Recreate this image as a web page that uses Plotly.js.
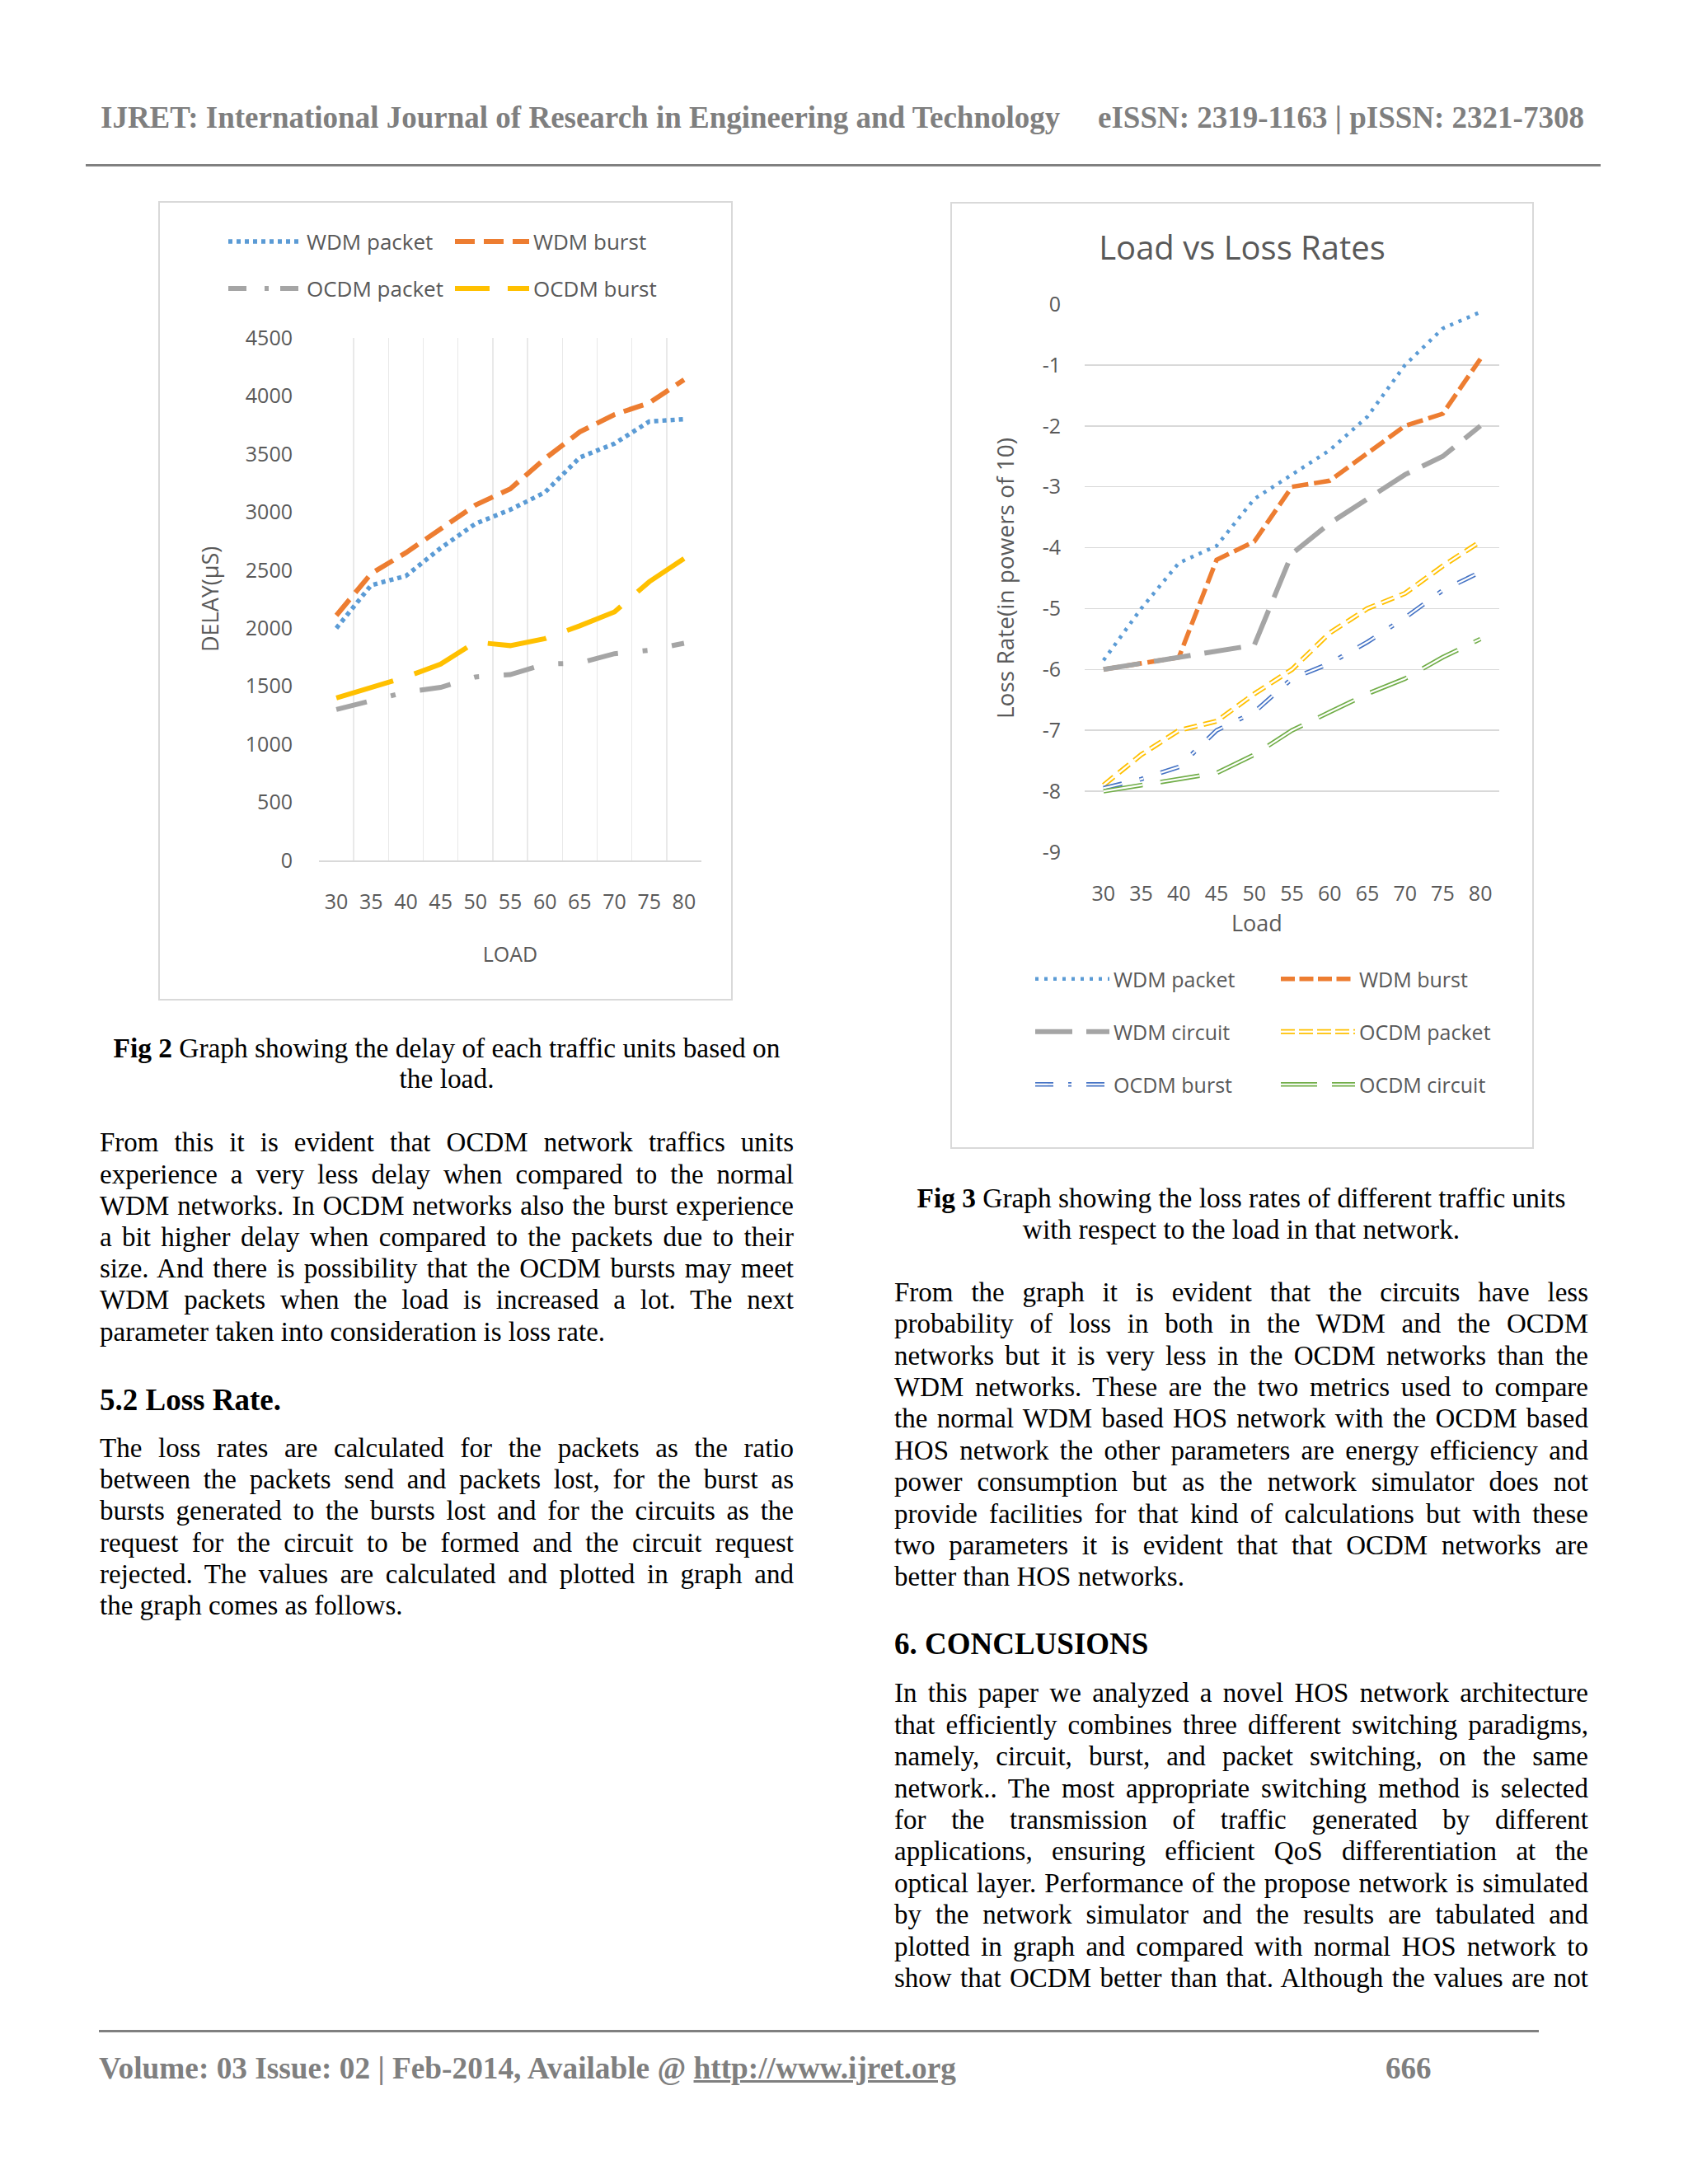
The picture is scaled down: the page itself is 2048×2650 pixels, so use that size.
<!DOCTYPE html>
<html><head><meta charset="utf-8">
<script src="https://cdn.plot.ly/plotly-3.0.1.min.js"></script>
<style>
html,body{margin:0;padding:0;background:#fff;}
#page{position:relative;width:2048px;height:2650px;overflow:hidden;background:#fff;font-family:"Liberation Serif","Times New Roman",serif;color:#000;}
.ln{position:absolute;white-space:nowrap;line-height:1;}
.rule{position:absolute;height:3px;background:#808080;}
.frame{position:absolute;border:2px solid #d9d9d9;background:#fff;}
.frame > div{width:100%;height:100%;}
</style></head>
<body>
<div id="page">
  <div class="rule" style="left:104px;top:199px;width:1838px;"></div>
  <div class="rule" style="left:120px;top:2463px;width:1747px;"></div>
  <div class="frame" style="left:192px;top:244px;width:693px;height:966px;"><div id="chart1"></div></div>
  <div class="frame" style="left:1153px;top:245px;width:704px;height:1145px;"><div id="chart2"></div></div>
</div>
<script>
// ---------------- data ----------------
const loads = ['30','35','40','45','50','55','60','65','70','75','80'];

// Fig 2: delay (µS)
const delayWdmPacket  = [2000,2370,2450,2690,2900,3020,3170,3470,3590,3780,3800];
const delayWdmBurst   = [2110,2470,2650,2860,3060,3200,3460,3690,3840,3940,4140];
const delayOcdmPacket = [1300,1380,1450,1490,1580,1600,1690,1700,1780,1810,1870];
const delayOcdmBurst  = [1400,1490,1580,1690,1880,1850,1910,2020,2140,2400,2600];
const delayTicks = [0,500,1000,1500,2000,2500,3000,3500,4000,4500];

// Fig 3: loss rate (powers of 10)
const lossWdmPacket   = [-5.85,-5.0,-4.25,-3.97,-3.2,-2.8,-2.4,-1.85,-1.0,-0.4,-0.13];
const lossWdmBurst    = [-6.0,-5.9,-5.8,-4.2,-3.9,-3.0,-2.9,-2.45,-2.0,-1.8,-0.9];
const lossWdmCircuit  = [-6.0,-5.9,-5.8,-5.7,-5.6,-4.1,-3.6,-3.2,-2.8,-2.5,-2.0];
const lossOcdmPacket  = [-7.9,-7.4,-7.0,-6.85,-6.4,-6.0,-5.4,-5.0,-4.75,-4.3,-3.9];
const lossOcdmBurst   = [-7.95,-7.8,-7.6,-7.0,-6.7,-6.15,-5.9,-5.55,-5.15,-4.7,-4.4];
const lossOcdmCircuit = [-8.0,-7.9,-7.8,-7.7,-7.4,-7.0,-6.7,-6.4,-6.15,-5.8,-5.5];
const lossTickVals = [0,-1,-2,-3,-4,-5,-6,-7,-8,-9];
const lossTickText = ['0','-1','-2','-3','-4','-5','-6','-7','-8','-9'];

// ---------------- page text ----------------
const page = document.getElementById('page');
function addLine(html, o){
  const d = document.createElement('div');
  d.className = 'ln';
  const size = o.size || 33;
  d.style.fontSize = size + 'px';
  d.style.top = (o.baseline - 0.837*size) + 'px';
  d.style.left = o.left + 'px';
  if (o.width) d.style.width = o.width + 'px';
  if (o.align === 'justify'){ d.style.textAlign='justify'; d.style.textAlignLast='justify'; }
  else if (o.align) d.style.textAlign = o.align;
  if (o.bold) d.style.fontWeight = 'bold';
  if (o.color) d.style.color = o.color;
  d.innerHTML = html;
  page.appendChild(d);
}
function addPara(lines, o){
  lines.forEach((t,i)=>{
    addLine(t, {left:o.left, width:o.width, size:o.size, baseline:o.baseline + i*o.step,
                align: (i===lines.length-1 && !o.justifyLast) ? 'left' : 'justify'});
  });
}
const gray = '#7f7f7f';
addLine('IJRET: International Journal of Research in Engineering and Technology', {left:122, baseline:154.5, size:37, bold:true, color:gray});
addLine('eISSN: 2319-1163 | pISSN: 2321-7308', {left:1332, baseline:154.5, size:37, bold:true, color:gray});
addLine('Volume: 03 Issue: 02 | Feb-2014, Available @ <u>http://www.ijret.org</u>', {left:120, baseline:2522, size:37.3, bold:true, color:gray});
addLine('666', {left:1681, baseline:2522, size:37, bold:true, color:gray});

const L = 121, W = 842, R = 1085;
addLine('<b>Fig 2</b> Graph showing the delay of each traffic units based on', {left:L, width:W, baseline:1283, size:33.4, align:'center'});
addLine('the load.', {left:L, width:W, baseline:1320, size:33.4, align:'center'});
addPara([
 'From this it is evident that OCDM network traffics units',
 'experience a very less delay when compared to the normal',
 'WDM networks. In OCDM networks also the burst experience',
 'a bit higher delay when compared to the packets due to their',
 'size. And there is possibility that the OCDM bursts may meet',
 'WDM packets when the load is increased a lot. The next',
 'parameter taken into consideration is loss rate.'
], {left:L, width:W, size:33, baseline:1398, step:38.2});
addLine('5.2 Loss Rate.', {left:L, baseline:1710.5, size:37, bold:true});
addPara([
 'The loss rates are calculated for the packets as the ratio',
 'between the packets send and packets lost, for the burst as',
 'bursts generated to the bursts lost and for the circuits as the',
 'request for the circuit to be formed and the circuit request',
 'rejected. The values are calculated and plotted in graph and',
 'the graph comes as follows.'
], {left:L, width:W, size:33, baseline:1768.5, step:38.3});

addLine('<b>Fig 3</b> Graph showing the loss rates of different traffic units', {left:R, width:W, baseline:1464.7, size:33.4, align:'center'});
addLine('with respect to the load in that network.', {left:R, width:W, baseline:1503.4, size:33.4, align:'center'});
addPara([
 'From the graph it is evident that the circuits have less',
 'probability of loss in both in the WDM and the OCDM',
 'networks but it is very less in the OCDM networks than the',
 'WDM networks. These are the two metrics used to compare',
 'the normal WDM based HOS network with the OCDM based',
 'HOS network the other parameters are energy efficiency and',
 'power consumption but as the network simulator does not',
 'provide facilities for that kind of calculations but with these',
 'two parameters it is evident that that OCDM networks are',
 'better than HOS networks.'
], {left:R, width:W, size:33, baseline:1579.7, step:38.35});
addLine('6. CONCLUSIONS', {left:R, baseline:2006.7, size:37, bold:true});
addPara([
 'In this paper we analyzed a novel HOS network architecture',
 'that efficiently combines three different switching paradigms,',
 'namely, circuit, burst, and packet switching, on the same',
 'network.. The most appropriate switching method is selected',
 'for the transmission of traffic generated by different',
 'applications, ensuring efficient QoS differentiation at the',
 'optical layer. Performance of the propose network is simulated',
 'by the network simulator and the results are tabulated and',
 'plotted in graph and compared with normal HOS network to',
 'show that OCDM better than that. Although the values are not'
], {left:R, width:W, size:33, baseline:2066, step:38.4, justifyLast:true});

// ---------------- charts ----------------
const FONT = 'Open Sans, sans-serif';
const TXT = '#595959';
const ITEMW = 90;

function legendAt(cw, ch, sampleLeft, rowCenter, size){
  return {xref:'container', yref:'container', x:(sampleLeft-5)/cw, y:1-rowCenter/ch,
    xanchor:'left', yanchor:'middle', orientation:'v',
    font:{family:FONT, size:size, color:TXT}, itemwidth:ITEMW,
    bgcolor:'rgba(0,0,0,0)', borderwidth:0};
}
// legend sample restyling (the reference shows a compressed dash pattern and hollow compound lines)
function restyleLegend(gd, spec){
  gd.querySelectorAll('g.traces').forEach(g => {
    if (g.getAttribute('data-restyled') === '1') return;
    const name = (g.textContent || '').replace(/[\s\u00a0\u200b]+/g, ' ').trim();
    const s = spec[name];
    if (!s) return;
    g.querySelectorAll('path').forEach(p => {
      if ((p.getAttribute('class') || '').indexOf('js-line') < 0) return;
      if (s.dash) p.style.setProperty('stroke-dasharray', s.dash);
      if (s.hollow) {
        const c = p.cloneNode(true);
        c.style.setProperty('stroke', '#ffffff');
        c.style.setProperty('stroke-width', s.hollow + 'px');
        p.parentNode.appendChild(c);
      }
    });
    g.setAttribute('data-restyled', '1');
  });
}
function scheduleRestyle(gd, spec){
  restyleLegend(gd, spec);
  setTimeout(() => restyleLegend(gd, spec), 50);
  setTimeout(() => restyleLegend(gd, spec), 400);
}

// Fig 2
const c1W = 693, c1H = 966;
const c1PlotL = 193, c1PlotR = 36, c1PlotT = 164, c1PlotB = 168;
const c1PW = c1W - c1PlotL - c1PlotR, c1PH = c1H - c1PlotT - c1PlotB;
const c1Traces = [
  {name:'WDM packet', y:delayWdmPacket, line:{color:'#5B9BD5', width:5.5, dash:'5px,5px'}, legend:'legend'},
  {name:'WDM burst', y:delayWdmBurst, line:{color:'#ED7D31', width:6, dash:'25px,11px'}, legend:'legend2'},
  {name:'OCDM packet', y:delayOcdmPacket, line:{color:'#A5A5A5', width:6, dash:'38px,30px,6px,30px'}, legend:'legend3'},
  {name:'OCDM burst', y:delayOcdmBurst, line:{color:'#FFC000', width:6, dash:'72px,27px'}, legend:'legend4'}
].map(t => Object.assign({x:loads, type:'scatter', mode:'lines', hoverinfo:'skip'}, t));

Plotly.newPlot('chart1', c1Traces, {
  width:c1W, height:c1H, paper_bgcolor:'#fff', plot_bgcolor:'#fff',
  margin:{l:c1PlotL, r:c1PlotR, t:c1PlotT, b:c1PlotB, pad:0, autoexpand:false},
  font:{family:FONT, color:TXT},
  showlegend:true,
  legend:  legendAt(c1W, c1H, 83, 47, 26),
  legend2: legendAt(c1W, c1H, 358, 47, 26),
  legend3: legendAt(c1W, c1H, 83, 104, 26),
  legend4: legendAt(c1W, c1H, 358, 104, 26),
  xaxis:{type:'category', categoryorder:'array', categoryarray:loads, range:[-0.5,10.5], automargin:false,
    tickson:'boundaries', showgrid:true, gridcolor:'#e9e9e9', gridwidth:1.5,
    showline:true, linecolor:'#d9d9d9', linewidth:1.5,
    ticks:'', ticklabelstandoff:27,
    tickfont:{family:FONT, size:25, color:TXT},
    title:{text:'LOAD', font:{family:FONT, size:25, color:TXT}, standoff:41}},
  yaxis:{range:[0,4500], tickvals:delayTicks, showgrid:false, zeroline:false, showline:false, automargin:false,
    ticks:'outside', ticklen:26, tickcolor:'rgba(0,0,0,0)',
    tickfont:{family:FONT, size:25, color:TXT}},
  annotations:[{text:'DELAY(µS)', textangle:-90, xref:'paper', yref:'paper',
    x:(60-c1PlotL)/c1PW, y:0.5, xanchor:'center', yanchor:'middle', showarrow:false,
    font:{family:FONT, size:27, color:TXT}}]
}, {staticPlot:true, displayModeBar:false}).then(gd => {
  scheduleRestyle(gd, {
    'OCDM packet': {dash:'22px,22px,5px,14px'},
    'OCDM burst': {dash:'42px,22px'},
    'WDM burst': {dash:'24px,11px'}
  });
});

// Fig 3
const c2W = 704, c2H = 1145;
const OB_DASH = '23px,22px,5px,22px', OP_DASH = '16px,8px', OC_DASH = '48px,22px';
const c2Traces = [
  {name:'WDM packet', y:lossWdmPacket, line:{color:'#5B9BD5', width:4.5, dash:'4px,7px'}, legend:'legend'},
  {name:'WDM burst', y:lossWdmBurst, line:{color:'#ED7D31', width:5.5, dash:'20px,7px'}, legend:'legend2'},
  {name:'WDM circuit', y:lossWdmCircuit, line:{color:'#A5A5A5', width:6, dash:'45px,17px'}, legend:'legend3'},
  {name:'OCDM packet', y:lossOcdmPacket, line:{color:'#FFC000', width:6, dash:OP_DASH}, legend:'legend4'},
  {name:'OCDM packet', y:lossOcdmPacket, line:{color:'#ffffff', width:2.4, dash:OP_DASH}, showlegend:false},
  {name:'OCDM burst', y:lossOcdmBurst, line:{color:'#4472C4', width:5.5, dash:OB_DASH}, legend:'legend5'},
  {name:'OCDM burst', y:lossOcdmBurst, line:{color:'#ffffff', width:2.2, dash:OB_DASH}, showlegend:false},
  {name:'OCDM circuit', y:lossOcdmCircuit, line:{color:'#70AD47', width:5.5, dash:OC_DASH}, legend:'legend6'},
  {name:'OCDM circuit', y:lossOcdmCircuit, line:{color:'#ffffff', width:2.2, dash:OC_DASH}, showlegend:false}
].map(t => Object.assign({x:loads, type:'scatter', mode:'lines', hoverinfo:'skip'}, t));

const c2PlotL = 161, c2PlotR = 40, c2PlotT = 122, c2PlotB = 358;
const c2PW = c2W - c2PlotL - c2PlotR, c2PH = c2H - c2PlotT - c2PlotB;
Plotly.newPlot('chart2', c2Traces, {
  width:c2W, height:c2H, paper_bgcolor:'#fff', plot_bgcolor:'#fff',
  margin:{l:c2PlotL, r:c2PlotR, t:c2PlotT, b:c2PlotB, pad:0, autoexpand:false},
  font:{family:FONT, color:TXT},
  title:{text:'Load vs Loss Rates', font:{family:FONT, size:40, color:TXT}, xref:'container', x:0.5, xanchor:'center', yref:'container', y:1-54/c2H, yanchor:'middle', automargin:false},
  showlegend:true,
  legend:  legendAt(c2W, c2H, 101, 941, 25),
  legend2: legendAt(c2W, c2H, 399, 941, 25),
  legend3: legendAt(c2W, c2H, 101, 1005, 25),
  legend4: legendAt(c2W, c2H, 399, 1005, 25),
  legend5: legendAt(c2W, c2H, 101, 1069, 25),
  legend6: legendAt(c2W, c2H, 399, 1069, 25),
  xaxis:{type:'category', categoryorder:'array', categoryarray:loads, range:[-0.5,10.5], automargin:false,
    showgrid:false, showline:false, zeroline:false,
    ticks:'outside', ticklen:28, tickcolor:'rgba(0,0,0,0)',
    tickfont:{family:FONT, size:25, color:TXT}},
  yaxis:{range:[-9,0], tickvals:lossTickVals, ticktext:lossTickText, showgrid:true, gridcolor:'#d9d9d9', gridwidth:1.5,
    zeroline:false, showline:false, automargin:false,
    ticks:'outside', ticklen:23, tickcolor:'rgba(0,0,0,0)',
    tickfont:{family:FONT, size:25, color:TXT}},
  annotations:[
    {text:'Load', xref:'paper', yref:'paper', x:(370-c2PlotL)/c2PW, y:-(872-c2PlotT-c2PH)/c2PH,
      xanchor:'center', yanchor:'middle', showarrow:false, font:{family:FONT, size:27, color:TXT}},
    {text:'Loss Rate(in powers of 10)', textangle:-90, xref:'paper', yref:'paper',
      x:(63.5-c2PlotL)/c2PW, y:0.5, xanchor:'center', yanchor:'middle', showarrow:false,
      font:{family:FONT, size:28, color:TXT}}]
}, {staticPlot:true, displayModeBar:false}).then(gd => {
  scheduleRestyle(gd, {
    'WDM burst': {dash:'17px,5.5px'},
    'OCDM packet': {dash:'17px,5px', hollow:2.4},
    'OCDM burst': {dash:'22px,18px,4px,18px', hollow:2.2},
    'OCDM circuit': {dash:'44px,18px', hollow:2.2}
  });
});
</script>
</body></html>
